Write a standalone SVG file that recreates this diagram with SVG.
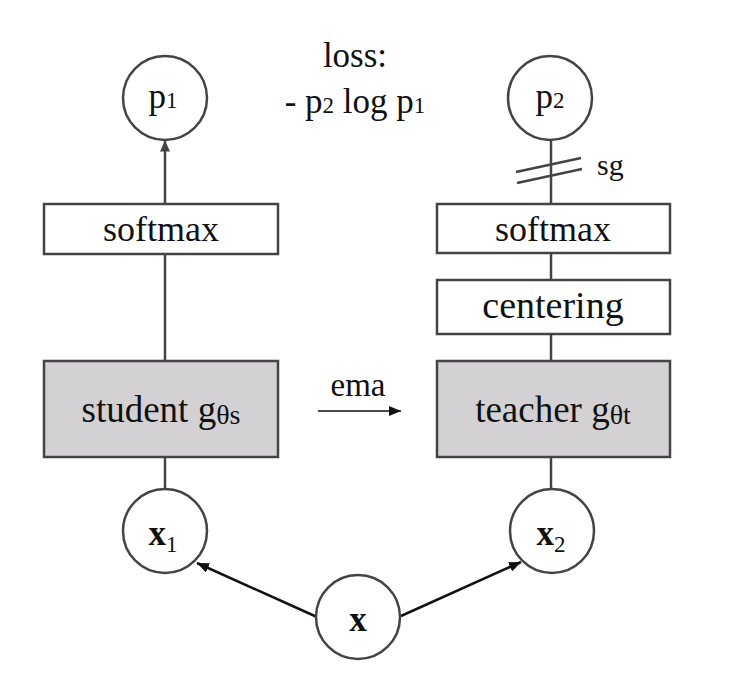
<svg xmlns="http://www.w3.org/2000/svg" width="729" height="679" viewBox="0 0 729 679">
<defs>
<style>
.node{fill:#fff;stroke:#444;stroke-width:2.5}
.gray{fill:#d3d1d3;stroke:#444;stroke-width:2.5}
.t{font-family:'Liberation Serif','Times New Roman','Tinos','DejaVu Serif',serif;fill:#111;text-anchor:middle}
.lbl{font-size:36px}
.big{font-size:37px}
.conn{stroke:#444;stroke-width:2.5;fill:none}
.blk{stroke:#111;stroke-width:2.5;fill:none}
</style>
<marker id="ah" markerUnits="userSpaceOnUse" markerWidth="12" markerHeight="10" refX="11" refY="5" orient="auto">
<path d="M0,0 L11,5 L0,10 z" fill="#444"/>
</marker>
<marker id="ahb" markerUnits="userSpaceOnUse" markerWidth="13" markerHeight="10" refX="12" refY="5" orient="auto">
<path d="M0,0 L12,5 L0,10 z" fill="#111"/>
</marker>
</defs>
<rect width="729" height="679" fill="#fff"/>
<g id="connectors">
<line class="conn" x1="165" y1="204" x2="165" y2="140.5" marker-end="url(#ah)"/>
<line class="conn" x1="165" y1="254" x2="165" y2="361"/>
<line class="conn" x1="165" y1="457" x2="165" y2="489"/>
<line class="conn" x1="551" y1="140" x2="551" y2="204"/>
<line class="conn" x1="551" y1="253" x2="551" y2="280"/>
<line class="conn" x1="551" y1="334" x2="551" y2="361"/>
<line class="conn" x1="551" y1="457" x2="551" y2="489"/>
<line class="conn" x1="516" y1="172" x2="581" y2="158"/>
<line class="conn" x1="517" y1="183" x2="582" y2="169"/>
<line class="blk" x1="317" y1="617" x2="197" y2="563" marker-end="url(#ahb)"/>
<line class="blk" x1="401" y1="616" x2="521" y2="562" marker-end="url(#ahb)"/>
<line x1="318" y1="411" x2="401" y2="411" stroke="#111" stroke-width="1.5" marker-end="url(#ahb)"/>
<text class="t" x="358" y="396" font-size="33">ema</text>
<text class="t" x="597" y="175" font-size="30" style="text-anchor:start">sg</text>
</g>
<g id="loss">
<text class="t" x="355" y="67" font-size="35">loss:</text>
<text class="t" x="355" y="113" font-size="35">- p<tspan font-size="23">2</tspan> log p<tspan font-size="23">1</tspan></text>
</g>
<g id="p1">
<circle class="node" cx="165" cy="98" r="42"/>
<text class="t" x="163" y="108" font-size="35">p<tspan font-size="23">1</tspan></text>
</g>
<g id="p2">
<circle class="node" cx="550" cy="98" r="42"/>
<text class="t" x="550" y="108" font-size="35">p<tspan font-size="23">2</tspan></text>
</g>
<g id="softmax_s">
<rect class="node" x="44" y="204" width="234" height="50"/>
<text class="t lbl" x="161" y="241">softmax</text>
</g>
<g id="softmax_t">
<rect class="node" x="437" y="204" width="233" height="49"/>
<text class="t lbl" x="553" y="241">softmax</text>
</g>
<g id="centering">
<rect class="node" x="437" y="280" width="233" height="54"/>
<text class="t" x="553" y="318" font-size="38">centering</text>
</g>
<g id="student">
<rect class="gray" x="44" y="361" width="234" height="96"/>
<text class="t big" x="161" y="422">student g<tspan font-size="28" dy="2">θs</tspan></text>
</g>
<g id="teacher">
<rect class="gray" x="437" y="361" width="233" height="96"/>
<text class="t big" x="553" y="422">teacher g<tspan font-size="28" dy="2">θt</tspan></text>
</g>
<g id="x1">
<circle class="node" cx="165" cy="531" r="42"/>
<text class="t" x="163" y="545" font-size="35" font-weight="bold">x<tspan font-size="23" font-weight="normal" dy="7">1</tspan></text>
</g>
<g id="x2">
<circle class="node" cx="552" cy="531" r="42"/>
<text class="t" x="551" y="545" font-size="35" font-weight="bold">x<tspan font-size="23" font-weight="normal" dy="7">2</tspan></text>
</g>
<g id="x">
<circle class="node" cx="358" cy="617" r="42"/>
<text class="t" x="358" y="631" font-size="35" font-weight="bold">x</text>
</g>
</svg>
